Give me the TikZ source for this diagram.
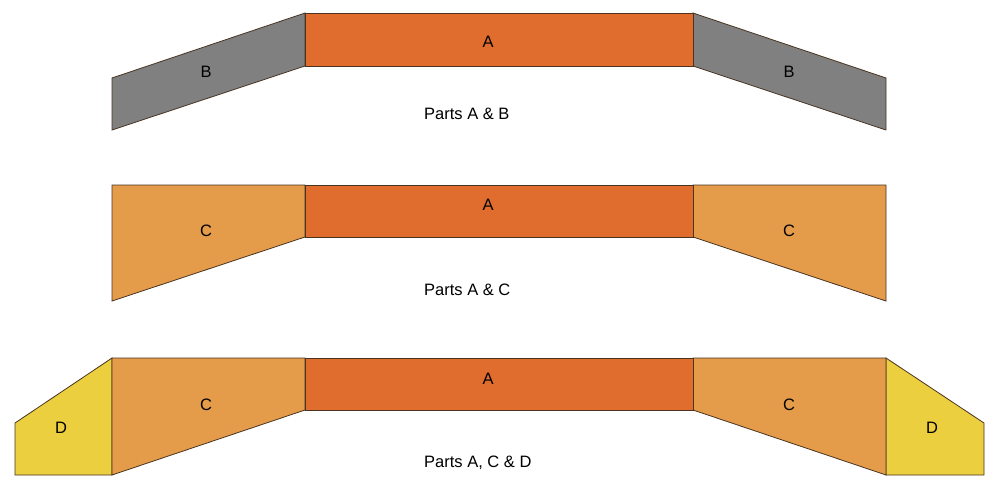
\documentclass[tikz,border=0pt]{standalone}
\usepackage{fontspec}
\setmainfont{Liberation Sans}

\definecolor{partA}{HTML}{E06C2E}
\definecolor{partB}{HTML}{808080}
\definecolor{partC}{HTML}{E49C4A}
\definecolor{partD}{HTML}{EBCF3F}
\definecolor{edge}{HTML}{4A3420}

\begin{document}
\begin{tikzpicture}[x=1pt,y=-1pt]
  \tikzstyle{every node}=[font=\fontsize{16.5}{19}\selectfont]
  \tikzstyle{part}=[draw=edge,line width=0.8pt,line join=miter]
  \tikzstyle{caption}=[anchor=west,inner sep=0pt]

  \useasboundingbox[fill=white] (0,0) rectangle (1000,497);

  % parts A & B
  \draw[part,fill=partB] (112,78) -- (305,13) -- (305,66) -- (112,130) -- cycle;
  \draw[part,fill=partB] (693,13) -- (886,78) -- (886,130) -- (693,66) -- cycle;
  \draw[part,fill=partA] (305,13) rectangle (693,66);
  \node (a1) at (488,42) {A};
  \node (b1) at (206,72) {B};
  \node (b2) at (789,72) {B};
  \node[caption] (t1) at (424,114) {Parts A \& B};

  % parts A & C
  \draw[part,fill=partC] (112,185) -- (305,185) -- (305,237) -- (112,301) -- cycle;
  \draw[part,fill=partC] (693,185) -- (886,185) -- (886,301) -- (693,237) -- cycle;
  \draw[part,fill=partA] (305,185) rectangle (693,237);
  \node (a2) at (488,205) {A};
  \node (c1) at (206,231) {C};
  \node (c2) at (789,231) {C};
  \node[caption] (t2) at (424,290) {Parts A \& C};

  % parts A, C & D
  \draw[part,fill=partD] (112,358) -- (15,423) -- (15,475) -- (112,475) -- cycle;
  \draw[part,fill=partD] (886,358) -- (984,423) -- (984,475) -- (886,475) -- cycle;
  \draw[part,fill=partC] (112,358) -- (305,358) -- (305,410) -- (112,475) -- cycle;
  \draw[part,fill=partC] (693,358) -- (886,358) -- (886,475) -- (693,410) -- cycle;
  \draw[part,fill=partA] (305,358) rectangle (693,410);
  \node (a3) at (488,379) {A};
  \node (c3) at (206,405) {C};
  \node (c4) at (789,405) {C};
  \node (d1) at (61,428) {D};
  \node (d2) at (932,428) {D};
  \node[caption] (t3) at (424,463) {Parts A, C \& D};

\end{tikzpicture}
\end{document}
